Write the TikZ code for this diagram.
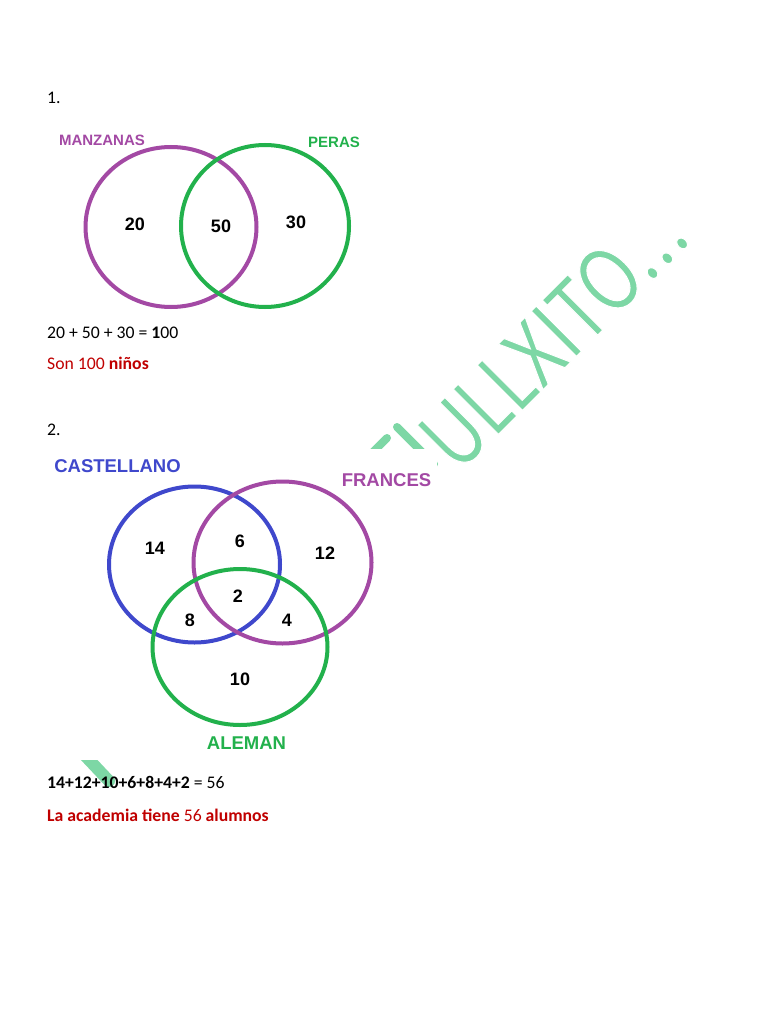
\documentclass[tikz,border=0pt]{standalone}
\usepackage{fontspec}
\setmainfont{Carlito}
\newfontfamily\labfont{Liberation Sans}
\newfontfamily\wmfont{Carlito}[LetterSpace=2]
\definecolor{vpurple}{RGB}{163,73,164}
\definecolor{vgreen}{RGB}{34,177,76}
\definecolor{vblue}{RGB}{63,72,204}
\definecolor{ansred}{RGB}{192,0,0}
\definecolor{wmgreen}{RGB}{125,215,165}
\tikzset{
  body/.style={anchor=base west, inner sep=0pt, font=\fontsize{17.7}{20}\selectfont},
  answer/.style={body, text=ansred},
  setlabel/.style={inner sep=0pt, anchor=base, font=\labfont\bfseries\fontsize{15}{18}\selectfont},
  setlabelb/.style={setlabel, font=\labfont\bfseries\fontsize{18.5}{22}\selectfont},
  num/.style={inner sep=0pt, font=\labfont\bfseries\fontsize{18}{20}\selectfont},
  ring/.style={line width=4pt},
  wm/.style={inner sep=0pt, anchor=base east, text=wmgreen, font=\wmfont\fontsize{100}{100}\selectfont},
  wmstroke/.style={draw=wmgreen, line width=8pt, line cap=round}
}
\begin{document}
\begin{tikzpicture}[x=1pt,y=-1pt]
\fill[white] (0,0) rectangle (768,1024);
\useasboundingbox (0,0) rectangle (768,1024);
% watermark (partly hidden behind the second picture)
\node[wm, rotate=45] (wmtext) at (693,240) {\special{pdf:literal direct 2 Tr 1 1 1 RG 1.2 w}\scalebox{0.77}[1]{ULLXITO...}\special{pdf:literal direct 0 Tr}};
\draw[wmstroke] (397,427) -- (434,464);
\draw[wmstroke] (387,438) -- (365,460);
\draw[wmstroke, line width=12pt] (76,746) -- (109,781);
\fill[white] (45,449) rectangle (437,760);
% ---------- 1 ----------
\node[body] (n1) at (47,104) {1.};
\draw[ring, vpurple] (171,227) ellipse [x radius=85.5, y radius=80];
\draw[ring, vgreen] (265,226) ellipse [x radius=84, y radius=81];
\node[setlabel, text=vpurple] (manz) at (102,146) {MANZANAS};
\node[setlabel, text=vgreen] (peras) at (334,148) {PERAS};
\node[num] (a20) at (135,224) {20};
\node[num] (a50) at (221,226) {50};
\node[num] (a30) at (296,222) {30};
\node[body] (eq1) at (47,338) {20 + 50 + 30 = \textbf{1}00};
\node[answer] (ans1) at (47,369) {Son 100 \textbf{niños}};
% ---------- 2 ----------
\node[body] (n2) at (47,435) {2.};
\draw[ring, vblue] (194.5,564.5) ellipse [x radius=85.5, y radius=78];
\draw[ring, vpurple] (282.5,562.5) ellipse [x radius=89, y radius=81];
\draw[ring, vgreen] (240,647) ellipse [x radius=87.5, y radius=78];
\node[setlabelb, text=vblue] (cast) at (117.5,472) {CASTELLANO};
\node[setlabelb, text=vpurple] (fran) at (386.5,486) {FRANCES};
\node[setlabelb, text=vgreen] (alem) at (246.5,749) {ALEMAN};
\node[num] (b14) at (155,548) {14};
\node[num] (b6) at (240,541) {6};
\node[num] (b12) at (325,553) {12};
\node[num] (b2) at (238,596) {2};
\node[num] (b8) at (190,620) {8};
\node[num] (b4) at (287,620) {4};
\node[num] (b10) at (240,679) {10};
\node[body] (eq2) at (47,788) {\textbf{14+12+10+6+8+4+2} = 56};
\node[answer] (ans2) at (47,821) {\textbf{La academia tiene} 56 \textbf{alumnos}};
\end{tikzpicture}
\end{document}
